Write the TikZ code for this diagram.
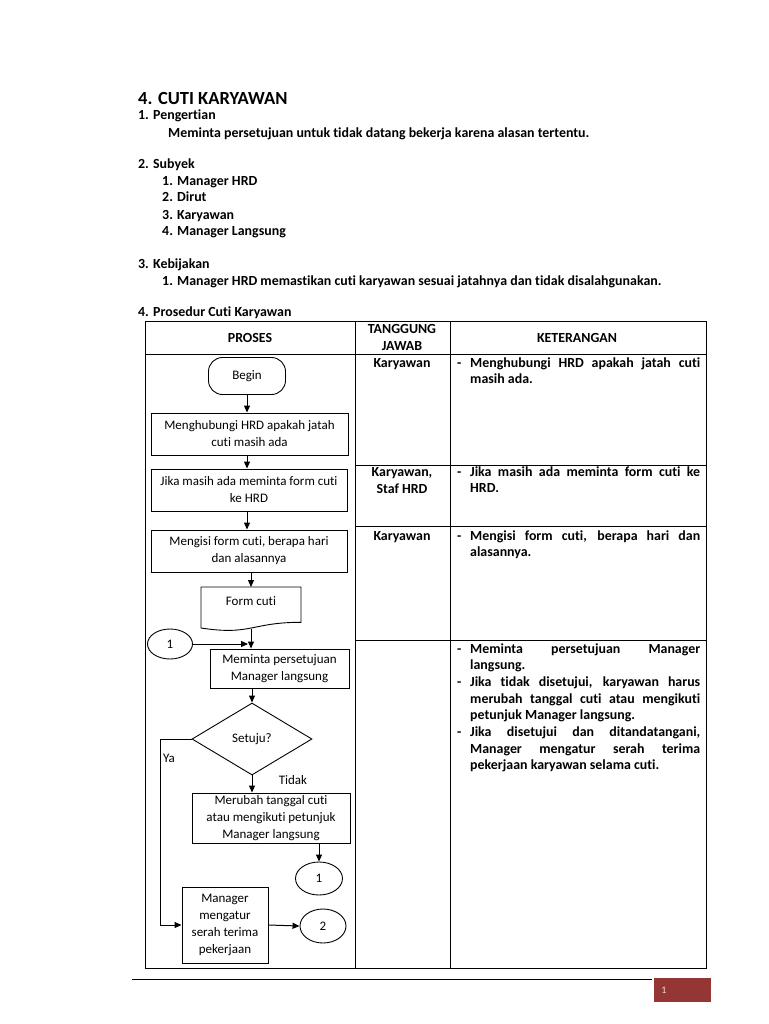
\documentclass[tikz,border=0pt]{standalone}
\usepackage{fontspec}
\setmainfont{Carlito}[Ligatures=NoCommon]
\usetikzlibrary{arrows.meta,positioning,shapes.geometric}

\definecolor{merahtua}{HTML}{943634}
\definecolor{merahmuda}{HTML}{F2DBDB}

\newcommand{\butir}[1]{\hangindent=13pt\hangafter=1\noindent\makebox[13pt][l]{-}#1\par}

\tikzset{
  teks/.style={anchor=base west, inner sep=0pt, font=\fontsize{13.9}{16.7}\selectfont\bfseries},
  judul/.style={anchor=base west, inner sep=0pt, font=\fontsize{18.5}{20}\selectfont\bfseries},
  kolom/.style={anchor=base, inner sep=0pt, align=center, font=\fontsize{13.9}{16.7}\selectfont\bfseries},
  ket/.style={anchor=base west, inner sep=0pt, text width=243pt, align=justify, font=\fontsize{13.9}{16.7}\selectfont\bfseries},
  proses/.style={draw, line width=0.9pt, align=center, inner sep=2pt, font=\fontsize{13}{17}\selectfont},
  konektor/.style={draw, ellipse, line width=0.9pt, inner sep=0pt, font=\fontsize{13}{17}\selectfont},
  label/.style={inner sep=0pt, font=\fontsize{13}{17}\selectfont},
  panah/.style={-{Triangle[length=7pt,width=6pt]}, line width=1pt},
}

\begin{document}
\begin{tikzpicture}[x=1pt,y=-1pt]
\useasboundingbox (0,0) rectangle (768,1024);

% teks halaman
\node[judul] (judul) at (138,105) {4. CUTI KARYAWAN};
\node[teks] (t1) at (138,120) {1. Pengertian};
\node[teks] (t1a) at (168,138) {Meminta persetujuan untuk tidak datang bekerja karena alasan tertentu.};
\node[teks] (t2) at (138,169) {2. Subyek};
\node[teks] (t2a) at (162,186) {1. Manager HRD};
\node[teks] (t2b) at (162,202) {2. Dirut};
\node[teks] (t2c) at (162,219) {3. Karyawan};
\node[teks] (t2d) at (162,236) {4. Manager Langsung};
\node[teks] (t3) at (138,268) {3. Kebijakan};
\node[teks] (t3a) at (162,285) {1. Manager HRD memastikan cuti karyawan sesuai jatahnya dan tidak disalahgunakan.};
\node[teks] (t4) at (138,316) {4. Prosedur Cuti Karyawan};

% tabel
\draw[line width=0.9pt] (145,321) rectangle (706,968);
\draw[line width=0.9pt] (355,321) -- (355,968);
\draw[line width=0.9pt] (450,321) -- (450,968);
\draw[line width=0.9pt] (145,354) -- (706,354);
\draw[line width=0.9pt] (355,465) -- (706,465);
\draw[line width=0.9pt] (355,526) -- (706,526);
\draw[line width=0.9pt] (355,640) -- (706,640);

\node[kolom] (hproses) at (250,342) {PROSES};
\node[kolom] (hjawab) at (402,350) {TANGGUNG\\JAWAB};
\node[kolom] (hket) at (577,342) {KETERANGAN};

\node[kolom] (j1) at (402,367) {Karyawan};
\node[kolom] (j2) at (402,493) {Karyawan,\\Staf HRD};
\node[kolom] (j3) at (402,540) {Karyawan};

\node[ket] (k1) at (457,367) {\butir{Menghubungi HRD apakah jatah cuti\linebreak masih ada.}};
\node[ket] (k2) at (457,476) {\butir{Jika masih ada meminta form cuti ke\linebreak HRD.}};
\node[ket] (k3) at (457,540) {\butir{Mengisi form cuti, berapa hari dan\linebreak alasannya.}};
\node[ket] (k4) at (457,653) {\butir{Meminta persetujuan Manager\linebreak langsung.}\butir{Jika tidak disetujui, karyawan harus\linebreak merubah tanggal cuti atau mengikuti\linebreak petunjuk Manager langsung.}\butir{Jika disetujui dan ditandatangani,\linebreak Manager mengatur serah terima\linebreak pekerjaan karyawan selama cuti.}};

% diagram alir
\node[proses, rounded corners=14pt, minimum width=77pt, minimum height=37pt] (begin) at (247,376) {Begin};
\node[proses, minimum width=197pt, minimum height=42pt] (hubungi) at (249.5,434) {Menghubungi HRD apakah jatah\\cuti masih ada};
\node[proses, minimum width=196pt, minimum height=42pt] (mintaform) at (249,490) {Jika masih ada meminta form cuti\\ke HRD};
\node[proses, minimum width=196pt, minimum height=42pt] (isiform) at (249,551) {Mengisi form cuti, berapa hari\\dan alasannya};
\node[label] (form) at (251,601) {Form cuti};
\draw[line width=0.9pt, shift={(form.center)}] (-50,-14) -- (50,-14) -- (50,21.3)
  .. controls (0,21.3) and (0,34.7) .. (-50,27) -- cycle;
\coordinate (formatas) at (251,587);
\coordinate (formbawah) at (251,629);
\node[konektor, minimum width=45pt, minimum height=30pt] (satukiri) at (170,644) {1};
\node[proses, minimum width=139pt, minimum height=39pt] (setuju) at (279.5,668.5) {Meminta persetujuan\\Manager langsung};
\node[draw, diamond, line width=0.9pt, aspect=1.67, minimum width=120pt, minimum height=72pt, inner sep=0pt, font=\fontsize{13}{17}\selectfont] (cek) at (252,739) {Setuju?};
\node[proses, minimum width=158pt, minimum height=50pt] (ubah) at (271,818) {Merubah tanggal cuti\\atau mengikuti petunjuk\\Manager langsung};
\node[konektor, minimum width=47pt, minimum height=33pt] (satukanan) at (319,878.5) {1};
\node[proses, minimum width=86pt, minimum height=76pt] (atur) at (225,925) {Manager\\mengatur\\serah terima\\pekerjaan};
\node[konektor, minimum width=46pt, minimum height=34pt] (dua) at (323,926) {2};
\node[label] (ya) at (169,758) {Ya};
\node[label] (tidak) at (293,780) {Tidak};
\coordinate (belokya) at (160,925);

\draw[panah] (begin) -- (begin |- hubungi.north);
\draw[panah] (hubungi.south -| begin) -- (begin |- mintaform.north);
\draw[panah] (mintaform.south -| begin) -- (begin |- isiform.north);
\draw[panah] (isiform.south -| formatas) -- (formatas);
\draw[panah] (formbawah) -- (formbawah |- setuju.north);
\draw[panah, shorten >=3pt] (satukiri.east) -- (satukiri -| formbawah);
\draw[panah] (cek.north |- setuju.south) -- (cek.north);
\draw[panah] (cek.south) -- (cek.south |- ubah.north);
\draw[panah] (satukanan.north |- ubah.south) -- (satukanan.north);
\draw[panah] (cek.west) -| (belokya) -- (atur.west);
\draw[panah] (atur.east) -- (dua.west);

% kaki halaman
\draw[line width=0.9pt] (132,979) -- (652,979);
\fill[merahtua] (654,978) rectangle (711,1002);
\node[inner sep=0pt, text=merahmuda, font=\fontsize{10}{12}\selectfont] (halaman) at (664,990) {1};
\end{tikzpicture}
\end{document}
